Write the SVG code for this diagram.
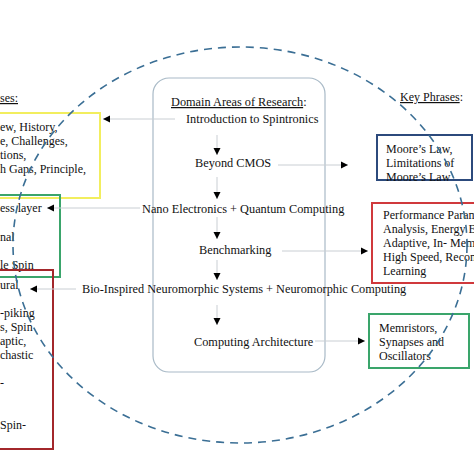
<svg xmlns="http://www.w3.org/2000/svg" width="474" height="474" viewBox="0 0 474 474">
<defs>
<marker id="ah" markerUnits="userSpaceOnUse" markerWidth="8" markerHeight="8" refX="7" refY="4" orient="auto">
<path d="M0,0.5 L7,4 L0,7.5 Z" fill="#000"/>
</marker>
<style>
text{font-family:"Liberation Serif","Times New Roman",serif;fill:#111;}
.c{font-size:12.3px;}
.b{font-size:12px;}
.conn{stroke:#c9ced3;stroke-width:1;fill:none;marker-end:url(#ah);}
.box{fill:none;stroke-width:2;}
</style>
</defs>
<rect width="474" height="474" fill="#fff"/>

<g id="domain-panel">
<rect x="153" y="78" width="172" height="294" rx="16" ry="16" fill="none" stroke="#a9bac7" stroke-width="1.2"/>
<text class="c" x="171" y="106"><tspan text-decoration="underline">Domain Areas of Research</tspan>:</text>
</g>
<g id="n-intro"><text class="c" x="186" y="123">Introduction to Spintronics</text></g>
<g id="n-cmos"><text class="c" x="195" y="167">Beyond CMOS</text></g>
<g id="n-nano"><text class="c" x="142" y="213">Nano Electronics + Quantum Computing</text></g>
<g id="n-bench"><text class="c" x="199" y="254">Benchmarking</text></g>
<g id="n-bio"><text class="c" x="82" y="293">Bio-Inspired Neuromorphic Systems + Neuromorphic Computing</text></g>
<g id="n-arch"><text class="c" x="194" y="346">Computing Architecture</text></g>

<g id="key-left">
<text class="b" x="0" y="102" text-decoration="underline">ses:</text>
</g>
<g id="box-yellow">
<rect class="box" x="-10" y="113" width="110" height="85" stroke="#f2ee5e"/>
<text class="b" x="0" y="131">ew, History,</text>
<text class="b" x="0" y="145">e, Challenges,</text>
<text class="b" x="0" y="159">tions,</text>
<text class="b" x="0" y="173">h Gaps, Principle,</text>
</g>
<g id="box-green-left">
<rect class="box" x="-10" y="195" width="70" height="82" stroke="#3aa56b"/>
<text class="b" x="0" y="212">ess layer</text>
<text class="b" x="0" y="241">nal</text>
<text class="b" x="0" y="269">le Spin</text>
</g>
<g id="box-red-left">
<rect class="box" x="-10" y="270" width="63" height="179" stroke="#a3272b"/>
<text class="b" x="0" y="289">ural</text>
<text class="b" x="0" y="317">-piking</text>
<text class="b" x="0" y="331">s, Spin</text>
<text class="b" x="0" y="345">aptic,</text>
<text class="b" x="0" y="359">chastic</text>
<text class="b" x="0" y="387">-</text>
<text class="b" x="0" y="429">Spin-</text>
</g>

<g id="key-right">
<text class="b" x="400" y="101"><tspan text-decoration="underline">Key Phrases</tspan>:</text>
</g>
<g id="box-moore">
<rect class="box" x="377" y="135" width="95" height="45" stroke="#2c4a7c"/>
<text class="b" x="386" y="153">Moore’s Law,</text>
<text class="b" x="386" y="167">Limitations of</text>
<text class="b" x="386" y="181">Moore’s Law</text>
</g>
<g id="box-perf">
<rect class="box" x="372" y="203" width="110" height="80" stroke="#d0393c"/>
<text class="b" x="383" y="219">Performance Param</text>
<text class="b" x="383" y="233">Analysis, Energy E</text>
<text class="b" x="383" y="247">Adaptive, In- Mem</text>
<text class="b" x="383" y="261">High Speed, Recon</text>
<text class="b" x="383" y="275">Learning</text>
</g>
<g id="box-mem">
<rect class="box" x="369" y="314" width="100" height="54" stroke="#3aa56b"/>
<text class="b" x="379" y="332">Memristors,</text>
<text class="b" x="379" y="346">Synapses and</text>
<text class="b" x="379" y="360">Oscillators</text>
</g>

<g id="connectors">
<line class="conn" x1="217" y1="135" x2="217" y2="155"/>
<line class="conn" x1="217" y1="177" x2="217" y2="199"/>
<line class="conn" x1="217" y1="217" x2="217" y2="239"/>
<line class="conn" x1="217" y1="260" x2="217" y2="280"/>
<line class="conn" x1="217" y1="305" x2="217" y2="325"/>
<line class="conn" x1="175" y1="119" x2="103" y2="119"/>
<line class="conn" x1="278" y1="165" x2="348" y2="165"/>
<line class="conn" x1="140" y1="208" x2="47" y2="208"/>
<line class="conn" x1="282" y1="251" x2="368" y2="251"/>
<line class="conn" x1="76" y1="289" x2="30" y2="289"/>
<line class="conn" x1="315" y1="341" x2="365" y2="341"/>
</g>

<g id="boundary">
<ellipse cx="240" cy="245" rx="227" ry="198" fill="none" stroke="#3b6f95" stroke-width="1.6" stroke-dasharray="8,6"/>
</g>
</svg>
